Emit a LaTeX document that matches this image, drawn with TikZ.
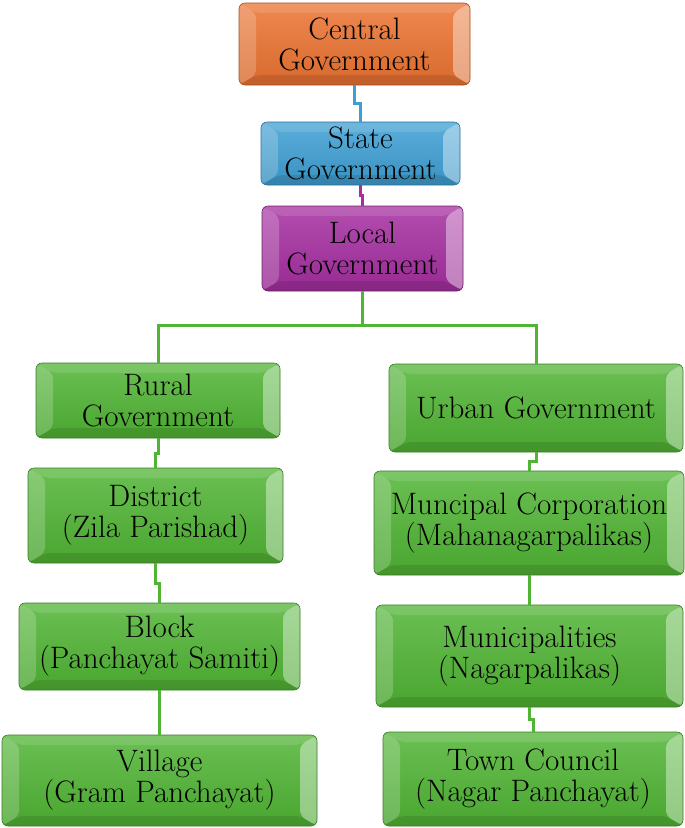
\documentclass[tikz,border=0pt]{standalone}
\usepackage{fontspec}
\usetikzlibrary{calc}
\definecolor{cOrange}{HTML}{EB7331}
\definecolor{cBlue}{HTML}{3E9FD3}
\definecolor{cPurple}{HTML}{A52EA0}
\definecolor{cGreen}{HTML}{50B434}
\tikzset{
  bevel/.style={
    path picture={
      \fill[white,opacity=.40] (path picture bounding box.north east) -- ++(-17pt,-10pt)
        -- ($(path picture bounding box.south east)+(-17pt,10pt)$) -- (path picture bounding box.south east) -- cycle;
      \fill[white,opacity=.20] (path picture bounding box.north west) -- ++(17pt,-10pt)
        -- ($(path picture bounding box.south west)+(17pt,10pt)$) -- (path picture bounding box.south west) -- cycle;
      \fill[white,opacity=.12] (path picture bounding box.north west) -- (path picture bounding box.north east)
        -- ++(-17pt,-10pt) -- ($(path picture bounding box.north west)+(17pt,-10pt)$) -- cycle;
      \fill[black,opacity=.10] (path picture bounding box.south west) -- (path picture bounding box.south east)
        -- ++(-17pt,10pt) -- ($(path picture bounding box.south west)+(17pt,10pt)$) -- cycle;
    }},
  box/.style={draw=#1!70!black, line width=0.6pt, top color=#1!85!white, bottom color=#1!92!black,
    rounded corners=6pt, align=center, inner sep=0pt, text=black,
    font=\fontsize{31}{31}\selectfont, bevel},
  conn/.style={draw=#1, line width=3pt},
  jog/.style={to path={(\tikztostart) |- ($(\tikztostart)!.5!(\tikztotarget)$) -| (\tikztotarget)}}
}
\begin{document}
\begin{tikzpicture}[x=1pt,y=-1pt]
\useasboundingbox (0,0) rectangle (685,828);
% nodes
\node[box=cOrange, minimum width=231pt, minimum height=82pt] (C) at (354.5,44) {Central\\Government};
\node[box=cBlue, minimum width=199pt, minimum height=63pt] (S) at (360.5,153.5) {State\\Government};
\node[box=cPurple, minimum width=201pt, minimum height=85pt] (L) at (362.5,248.5) {Local\\Government};
\node[box=cGreen, minimum width=244pt, minimum height=75pt] (R) at (158,400.5) {Rural\\Government};
\node[box=cGreen, minimum width=294pt, minimum height=88pt] (U) at (536,408) {Urban Government};
\node[box=cGreen, minimum width=255pt, minimum height=95pt] (D) at (155.5,515.5) {District\\(Zila Parishad)};
\node[box=cGreen, minimum width=310pt, minimum height=104pt] (M) at (529,523) {Muncipal Corporation\\(Mahanagarpalikas)};
\node[box=cGreen, minimum width=281pt, minimum height=87pt] (B) at (159.5,646.5) {Block\\(Panchayat Samiti)};
\node[box=cGreen, minimum width=307pt, minimum height=102pt] (P) at (529.5,656) {Municipalities\\(Nagarpalikas)};
\node[box=cGreen, minimum width=315pt, minimum height=91pt] (V) at (159.5,780.5) {Village\\(Gram Panchayat)};
\node[box=cGreen, minimum width=300pt, minimum height=94pt] (T) at (533,779) {Town Council\\(Nagar Panchayat)};
% connectors
\coordinate (lj) at (362.5,325);
\draw[conn=cBlue] (C.south) to[jog] (S.north);
\draw[conn=cPurple] (S.south) to[jog] (L.north);
\draw[conn=cGreen] (L.south) -- (L.south |- lj) -| (R.north);
\draw[conn=cGreen] (L.south |- lj) -| (U.north);
\draw[conn=cGreen] (R.south) to[jog] (D.north);
\draw[conn=cGreen] (D.south) to[jog] (B.north);
\draw[conn=cGreen] (B.south) to[jog] (V.north);
\draw[conn=cGreen] (U.south) to[jog] (M.north);
\draw[conn=cGreen] (M.south) to[jog] (P.north);
\draw[conn=cGreen] (P.south) to[jog] (T.north);
\end{tikzpicture}
\end{document}
